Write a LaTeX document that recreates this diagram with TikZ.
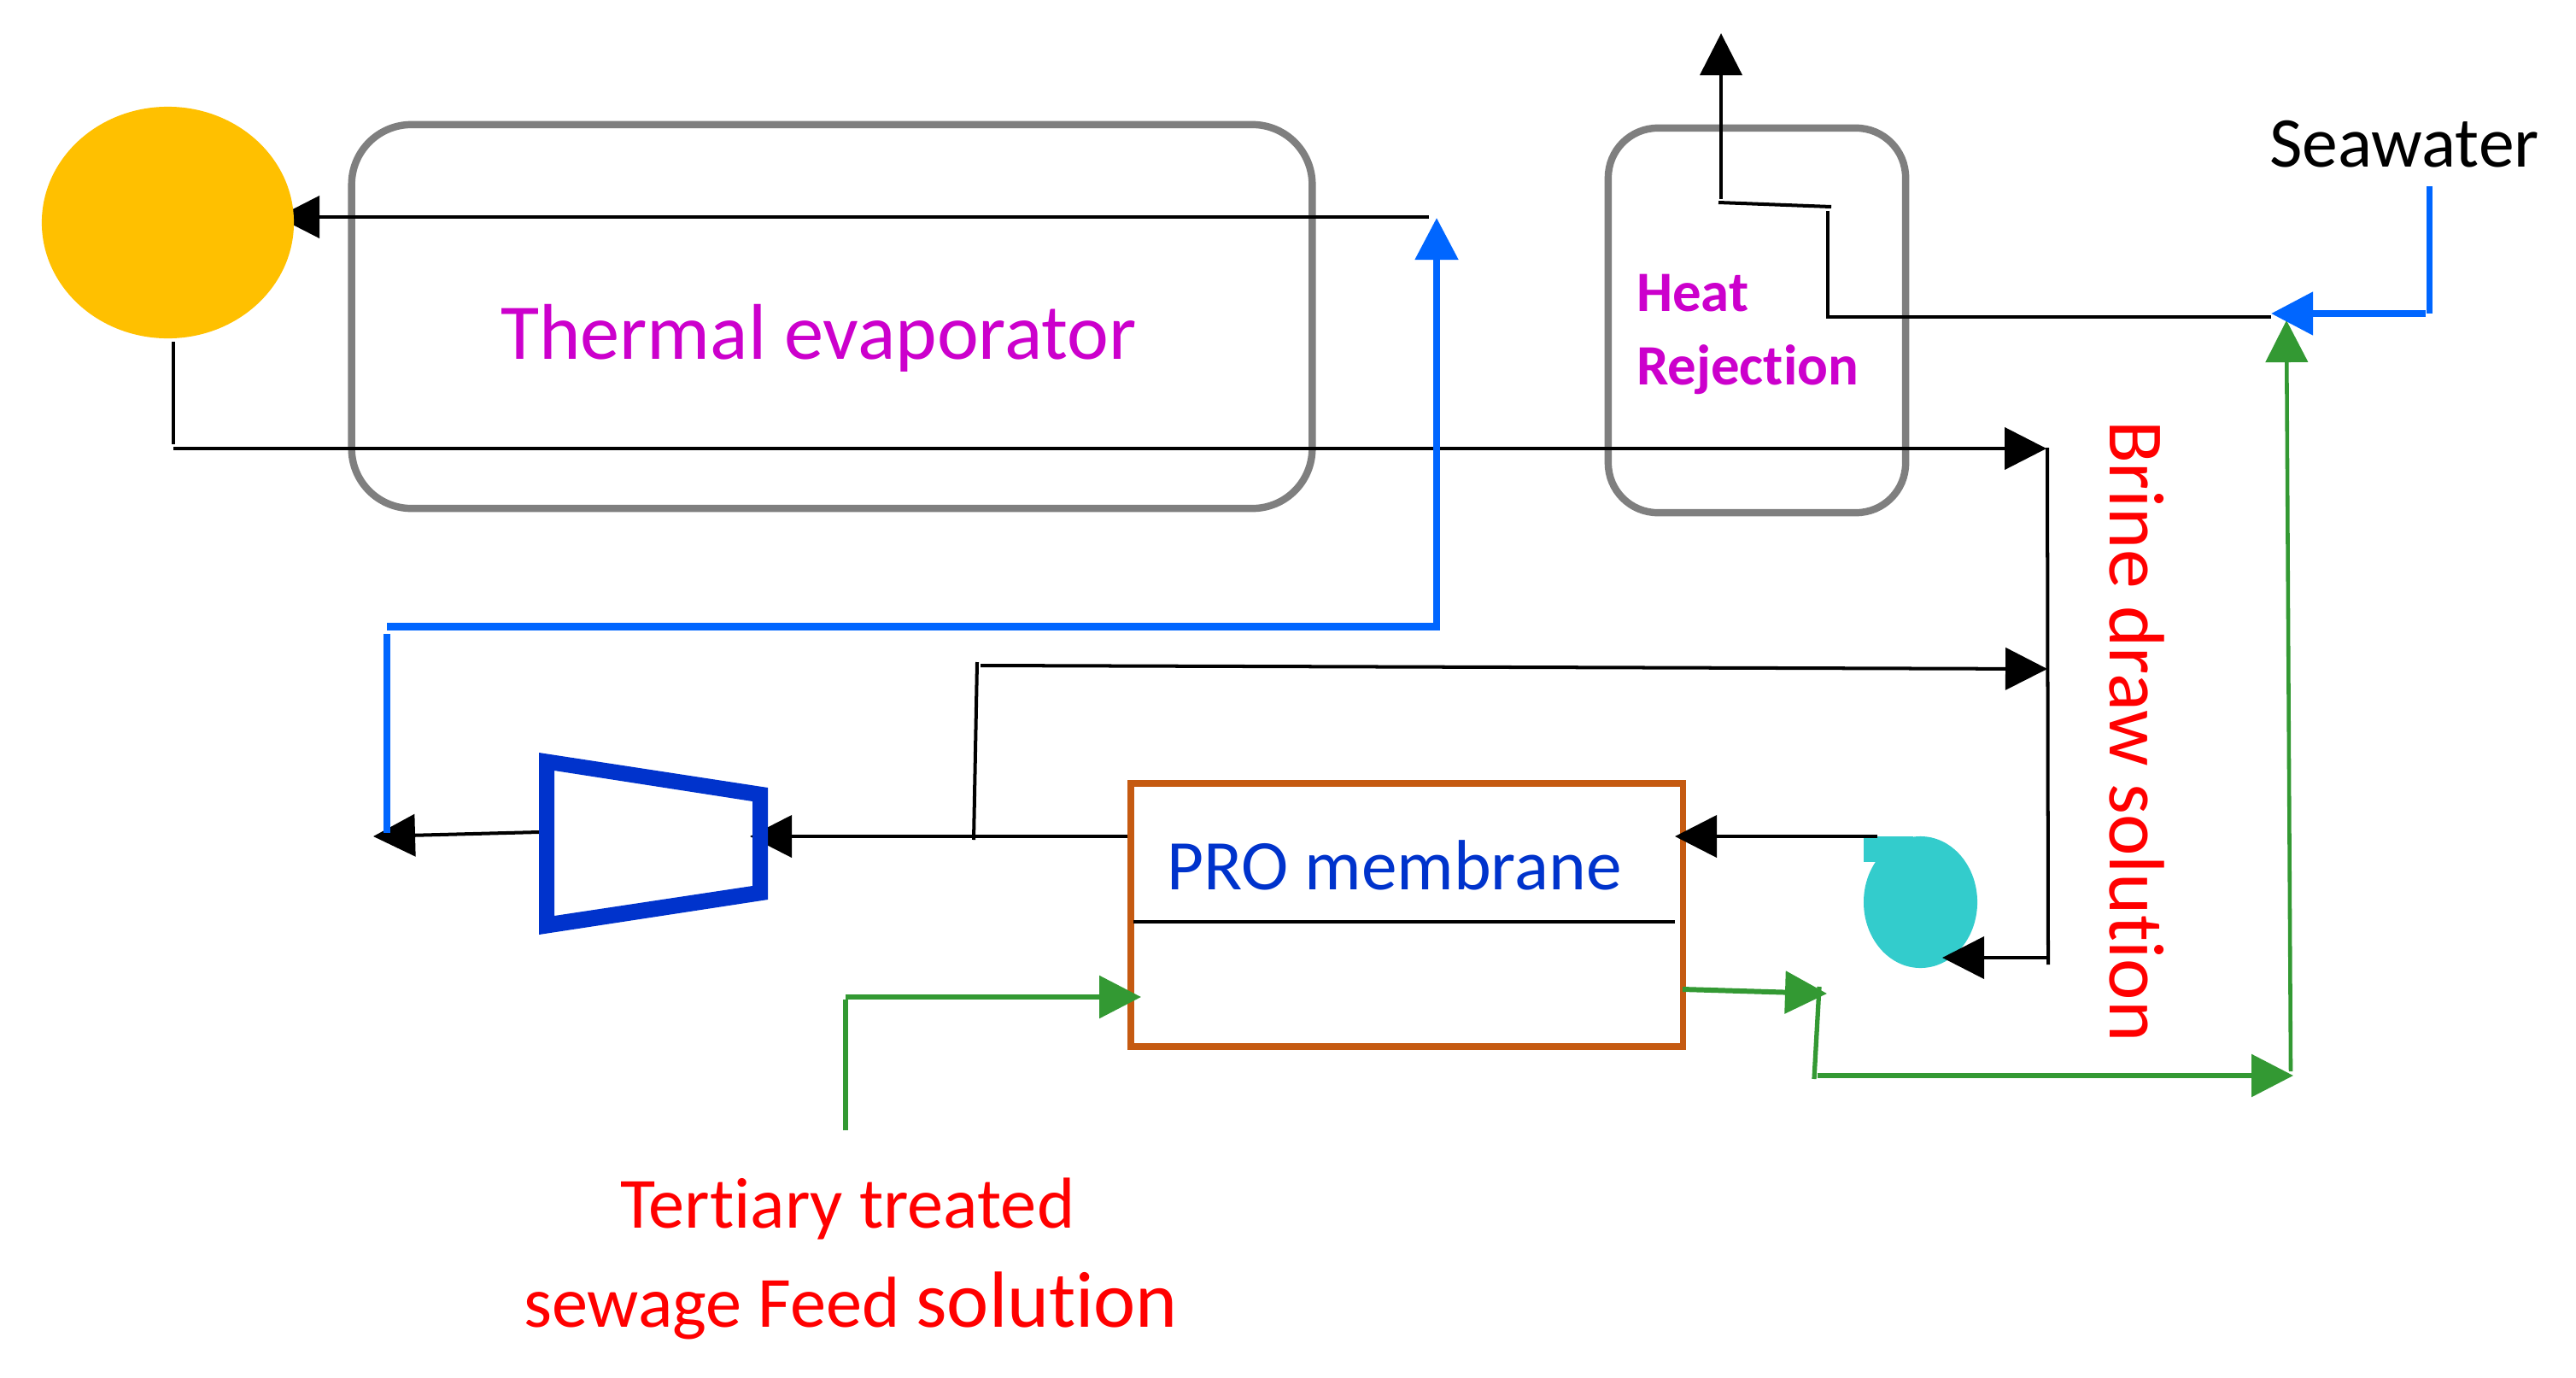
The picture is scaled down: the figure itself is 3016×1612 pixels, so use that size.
\documentclass[tikz,border=0pt]{standalone}
\usepackage{fontspec}
\usetikzlibrary{shapes.geometric,arrows.meta}
\setmainfont[Ligatures={NoCommon}]{Carlito}
\definecolor{sunc}{HTML}{FFC000}
\definecolor{greyc}{HTML}{7F7F7F}
\definecolor{bluec}{HTML}{0066FF}
\definecolor{greenc}{HTML}{339933}
\definecolor{turbc}{HTML}{0033CC}
\definecolor{orangec}{HTML}{C55A11}
\definecolor{tealc}{HTML}{33CCCC}
\definecolor{magc}{HTML}{CC00CC}
\tikzset{
  x=0.01cm,y=-0.01cm,
  pipe/.style={draw=black,line width=1.14pt},
  bluepipe/.style={draw=bluec,line width=2.3pt},
  greenpipe/.style={draw=greenc,line width=1.5pt},
  arr/.style={-{Triangle[length=13.94pt,width=13.94pt]}},
  greybox/.style={draw=greyc,line width=2.4pt,fill=none,inner sep=0pt,outer sep=0pt},
  lbl/.style={inner sep=0pt,outer sep=0pt,anchor=base west},
  fs/.style={font=\fontsize{#1}{#1}\selectfont},
}
\begin{document}
\begin{tikzpicture}
\useasboundingbox (0,0) rectangle (3016,1612);
\fill[white] (0,0) rectangle (3016,1612);
% boxes
\node[greybox,rounded corners=0.7cm,minimum width=11.24cm,minimum height=4.49cm] (evap) at (974,370.5) {};
\node[greybox,rounded corners=0.58cm,minimum width=3.48cm,minimum height=4.5cm] (heat) at (2057,375) {};
\node[draw=orangec,line width=2.1pt,inner sep=0pt,outer sep=0pt,minimum width=6.46cm,minimum height=3.08cm] (pro) at (1647,1071) {};
% connector end points
\coordinate (a1) at (1673,254); \coordinate (a2) at (325,254);
\coordinate (b1) at (203,400); \coordinate (b2) at (203,520);
\coordinate (c1) at (203,525); \coordinate (c2) at (2396,525);
\coordinate (d1) at (2015,233); \coordinate (d2) at (2015,39);
\coordinate (e1) at (2012,237); \coordinate (e2) at (2144,242);
\coordinate (f1) at (2140,247); \coordinate (f2) at (2140,373);
\coordinate (g1) at (2138,371); \coordinate (g2) at (2659,371);
\coordinate (h1) at (2844,218); \coordinate (h2) at (2844,367);
\coordinate (i1) at (2840,367); \coordinate (i2) at (2659,367);
\coordinate (j1) at (2397,524); \coordinate (j2) at (2398,1129);
\coordinate (k1) at (2398,1121); \coordinate (k2) at (2274,1121);
\coordinate (l1) at (2198,979); \coordinate (l2) at (1961,979);
\coordinate (m1) at (1320,979); \coordinate (m2) at (878,979);
\coordinate (n1) at (631,974); \coordinate (n2) at (437,979);
\coordinate (o1) at (1144,775); \coordinate (o2) at (1140,983);
\coordinate (p1) at (1148,779); \coordinate (p2) at (2397,783);
\coordinate (q1) at (1327,1079); \coordinate (q2) at (1961,1079);
\coordinate (r1) at (990,1323); \coordinate (r2) at (990,1170);
\coordinate (s1) at (990,1167); \coordinate (s2) at (1336,1167);
\coordinate (t1) at (1970,1158); \coordinate (t2) at (2139,1163);
\coordinate (u1) at (2130,1155); \coordinate (u2) at (2124,1263);
\coordinate (v1) at (2128,1259); \coordinate (v2) at (2685,1259);
\coordinate (w1) at (2682,1254); \coordinate (w2) at (2677,375);
\coordinate (x1) at (453,742); \coordinate (x2) at (453,975);
\coordinate (y1) at (453,733.5); \coordinate (y2) at (1682,733.5); \coordinate (y3) at (1682,255);
% black connectors beneath the shapes
\draw[pipe,arr] (a1) -- (a2);
\draw[pipe] (b1) -- (b2);
\draw[pipe,arr] (c1) -- (c2);
\draw[pipe,arr] (d1) -- (d2);
\draw[pipe] (e1) -- (e2);
\draw[pipe] (f1) -- (f2);
\draw[pipe] (g1) -- (g2);
\draw[pipe] (j1) -- (j2);
\draw[pipe,arr] (m1) -- (m2);
\draw[pipe,arr] (n1) -- (n2);
\draw[pipe] (o1) -- (o2);
\draw[pipe,arr] (p1) -- (p2);
\draw[pipe] (q1) -- (q2);
% sun
\node[ellipse,fill=sunc,inner sep=0pt,outer sep=0pt,minimum width=2.95cm,minimum height=2.71cm] (sun) at (196.5,260.5) {};
% pump
\fill[tealc] (2182,979) rectangle (2240,1009);
\node[ellipse,fill=tealc,inner sep=0pt,outer sep=0pt,minimum width=1.33cm,minimum height=1.54cm] (pump) at (2248.5,1056) {};
\draw[pipe,arr] (l1) -- (l2);
\draw[pipe,arr] (k1) -- (k2);
% turbine
\fill[turbc,even odd rule] (631,881) -- (899,922) -- (899,1053) -- (631,1094) -- cycle
  (649,902) -- (881,938) -- (881,1037) -- (649,1072) -- cycle;
% green connectors
\draw[greenpipe] (r1) -- (r2);
\draw[greenpipe,line width=1.7pt,arr] (s1) -- (s2);
\draw[greenpipe,line width=1.7pt,arr] (t1) -- (t2);
\draw[greenpipe] (u1) -- (u2);
\draw[greenpipe,line width=1.7pt,arr] (v1) -- (v2);
\draw[greenpipe,line width=1.3pt,arr] (w1) -- (w2);
% blue connectors
\draw[bluepipe,line width=2pt] (h1) -- (h2);
\draw[bluepipe,arr] (i1) -- (i2);
\draw[bluepipe,line width=2pt] (x1) -- (x2);
\draw[bluepipe,arr] (y1) -- (y2) -- (y3);
% labels
\node[lbl,fs=26.3,text=magc] (tevap) at (586,420) {Thermal evaporator};
\node[lbl,text=magc,font=\bfseries\fontsize{19}{19}\selectfont] (theat) at (1916,364) {Heat};
\node[lbl,text=magc,font=\bfseries\fontsize{19}{19}\selectfont] (trej) at (1916,450) {Rejection};
\node[lbl,fs=23.8] (tsea) at (2657,195) {Seawater};
\node[lbl,fs=23.7,text=turbc] (tpro) at (1366,1041) {PRO membrane};
\node[lbl,fs=26.1,text=red,rotate=-90] (tbrine) at (2470,492) {Brine draw solution};
\node[lbl,fs=24,text=red] (tter) at (726,1437) {Tertiary treated};
\node[lbl,fs=24,text=red] (tsew) at (613,1553) {sewage Feed {\fontsize{26.5}{26.5}\selectfont solution}};
\end{tikzpicture}
\end{document}
